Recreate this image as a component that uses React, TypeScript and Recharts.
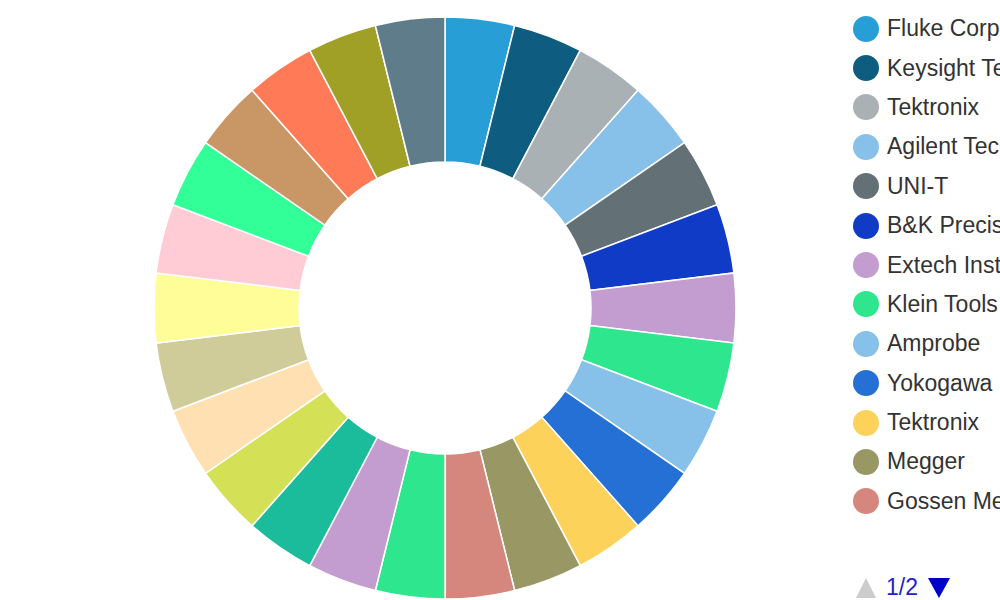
import { PieChart, Pie, Cell, Legend } from "recharts";

const BRANDS = [
	"Fluke Corporation",
	"Keysight Technologies",
	"Tektronix",
	"Agilent Technologies",
	"UNI-T",
	"B&K Precision",
	"Extech Instruments",
	"Klein Tools",
	"Amprobe",
	"Yokogawa",
	"Tektronix",
	"Megger",
	"Gossen Metrawatt",
	"Hioki",
	"Kyoritsu",
	"Chauvin Arnoux",
	"Metrel",
	"Sanwa",
	"Mastech",
	"Brymen",
	"Victor",
	"Greenlee",
	"Ideal Industries",
	"Rohde & Schwarz",
	"Chroma",
	"GW Instek",
];

const SHARES = [
	10, 10, 10, 10, 10, 10, 10, 10, 10, 10, 10, 10, 10,
	10, 10, 10, 10, 10, 10, 10, 10, 10, 10, 10, 10, 10,
];

const COLORS = [
	"#289ed6", "#0e5c80", "#aab1b5", "#87c0e8", "#637075",
	"#0f3bc6", "#c39cd0", "#2ee68e", "#87c0e8", "#2570d4",
	"#fdd25b", "#999865", "#d5867d", "#2ee68e", "#c39cd0",
	"#1abc9c", "#d4e157", "#ffe0b2", "#cfcc99", "#fffd98",
	"#ffccd5", "#33ff99", "#c99766", "#ff7b57", "#a0a027",
	"#5f7c8a",
];

const PAGE_SIZE = 13;

const chartData = BRANDS.map((name, i) => ({ name, value: SHARES[i] }));

function PagedLegend() {
	return (
		<div style={{ fontFamily: "Liberation Sans, Arial, sans-serif", fontSize: 23, color: "#333" }}>
			{chartData.slice(0, PAGE_SIZE).map((d, i) => (
				<div
					key={i}
					style={{
						display: "flex",
						alignItems: "center",
						height: 39.4,
						whiteSpace: "nowrap",
					}}
				>
					<span
						style={{
							display: "inline-block",
							width: 26,
							height: 26,
							borderRadius: 13,
							background: COLORS[i],
							marginRight: 8,
							flexShrink: 0,
						}}
					/>
					<span>{d.name}</span>
				</div>
			))}
			<div style={{ display: "flex", alignItems: "center", marginTop: 53 }}>
				<svg width={26} height={22}>
					<polygon points="13,1 23,21 3,21" fill="#cccccc" />
				</svg>
				<span style={{ color: "#2222cc", margin: "0 9px 0 7px" }}>1/2</span>
				<svg width={24} height={22}>
					<polygon points="1,1 23,1 12,21" fill="#0000cc" />
				</svg>
			</div>
		</div>
	);
}

export default function App() {
	return (
		<div
			style={{
				position: "absolute",
				left: 0,
				top: 0,
				width: 1000,
				height: 600,
				overflow: "hidden",
				background: "#fff",
			}}
		>
			<PieChart width={1000} height={600} margin={{ top: 0, right: 0, bottom: 0, left: 0 }}>
				<Pie
					data={chartData}
					dataKey="value"
					nameKey="name"
					cx={445}
					cy={308}
					innerRadius={146}
					outerRadius={291}
					startAngle={90}
					endAngle={-270}
					stroke="#ffffff"
					strokeWidth={1.5}
					isAnimationActive={false}
				>
					{chartData.map((_, i) => (
						<Cell key={i} fill={COLORS[i]} />
					))}
				</Pie>
				<Legend
					content={() => <PagedLegend />}
					wrapperStyle={{ position: "absolute", left: 853, top: 9, width: 147 }}
				/>
			</PieChart>
		</div>
	);
}
